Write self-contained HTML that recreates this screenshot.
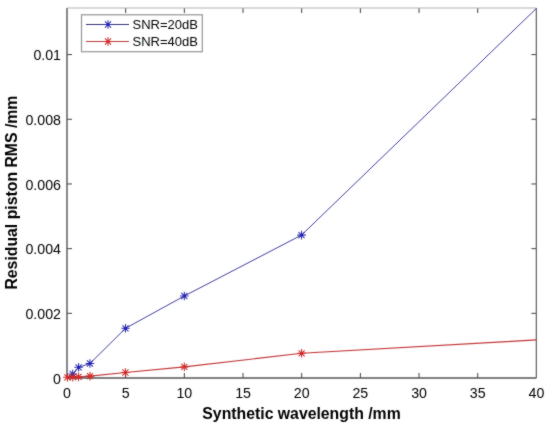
<!DOCTYPE html>
<html><head><meta charset="utf-8"><title>Residual piston RMS vs synthetic wavelength</title>
<style>html,body{margin:0;padding:0;background:#fff;width:550px;height:428px;overflow:hidden}svg{display:block}</style>
</head><body>
<svg width="550" height="428" viewBox="0 0 550 428"><defs><clipPath id="clip"><rect x="67.0" y="8.0" width="469.4" height="370.0"/></clipPath><filter id="soft" x="0" y="0" width="550" height="428" filterUnits="userSpaceOnUse" color-interpolation-filters="sRGB"><feConvolveMatrix order="3" kernelMatrix="1 2 1 2 20 2 1 2 1" edgeMode="duplicate"/></filter></defs><g filter="url(#soft)"><rect width="550" height="428" fill="#fff"/><rect x="67.0" y="8.0" width="469.4" height="370.0" fill="#fff"/><path d="M125.67 378.0V373.0M125.67 8.0V13.0M184.35 378.0V373.0M184.35 8.0V13.0M243.02 378.0V373.0M243.02 8.0V13.0M301.70 378.0V373.0M301.70 8.0V13.0M360.38 378.0V373.0M360.38 8.0V13.0M419.05 378.0V373.0M419.05 8.0V13.0M477.72 378.0V373.0M477.72 8.0V13.0M67.0 313.32H72.0M536.4 313.32H531.4M67.0 248.64H72.0M536.4 248.64H531.4M67.0 183.96H72.0M536.4 183.96H531.4M67.0 119.28H72.0M536.4 119.28H531.4M67.0 54.60H72.0M536.4 54.60H531.4" stroke="#404040" stroke-width="1.0" fill="none"/><path d="M67.0 8.0V378.0H536.4" fill="none" stroke="#555555" stroke-width="1.4"/><path d="M536.35 378.0V8.0" fill="none" stroke="#666" stroke-width="1.25"/><path d="M67.0 8.0H536.4" fill="none" stroke="#b4b4b4" stroke-width="1.2"/><g clip-path="url(#clip)"><polyline points="72.70,374.00 78.60,367.30 89.95,363.50 125.50,328.30 184.30,296.00 301.50,235.10 536.40,8.40" fill="none" stroke="#4040a2" stroke-width="1.0" stroke-linejoin="round"/><polyline points="67.40,377.30 72.80,377.10 78.50,376.90 90.00,376.10 125.40,372.50 184.30,366.90 301.60,353.30 536.40,339.90" fill="none" stroke="#c23436" stroke-width="1.15" stroke-linejoin="round"/></g><path d="M68.40 374.00H77.00M72.70 369.70V378.30M69.66 370.96L75.74 377.04M69.66 377.04L75.74 370.96" stroke="#3030a6" stroke-width="1.05" fill="none"/><circle cx="72.70" cy="374.00" r="1.15" fill="#1414e6"/><path d="M74.30 367.30H82.90M78.60 363.00V371.60M75.56 364.26L81.64 370.34M75.56 370.34L81.64 364.26" stroke="#3030a6" stroke-width="1.05" fill="none"/><circle cx="78.60" cy="367.30" r="1.15" fill="#1414e6"/><path d="M85.65 363.50H94.25M89.95 359.20V367.80M86.91 360.46L92.99 366.54M86.91 366.54L92.99 360.46" stroke="#3030a6" stroke-width="1.05" fill="none"/><circle cx="89.95" cy="363.50" r="1.15" fill="#1414e6"/><path d="M121.20 328.30H129.80M125.50 324.00V332.60M122.46 325.26L128.54 331.34M122.46 331.34L128.54 325.26" stroke="#3030a6" stroke-width="1.05" fill="none"/><circle cx="125.50" cy="328.30" r="1.15" fill="#1414e6"/><path d="M180.00 296.00H188.60M184.30 291.70V300.30M181.26 292.96L187.34 299.04M181.26 299.04L187.34 292.96" stroke="#3030a6" stroke-width="1.05" fill="none"/><circle cx="184.30" cy="296.00" r="1.15" fill="#1414e6"/><path d="M297.20 235.10H305.80M301.50 230.80V239.40M298.46 232.06L304.54 238.14M298.46 238.14L304.54 232.06" stroke="#3030a6" stroke-width="1.05" fill="none"/><circle cx="301.50" cy="235.10" r="1.15" fill="#1414e6"/><path d="M63.10 377.30H71.70M67.40 373.00V381.60M64.36 374.26L70.44 380.34M64.36 380.34L70.44 374.26" stroke="#c42a2a" stroke-width="1.05" fill="none"/><circle cx="67.40" cy="377.30" r="1.15" fill="#ff1e1e"/><path d="M68.50 377.10H77.10M72.80 372.80V381.40M69.76 374.06L75.84 380.14M69.76 380.14L75.84 374.06" stroke="#c42a2a" stroke-width="1.05" fill="none"/><circle cx="72.80" cy="377.10" r="1.15" fill="#ff1e1e"/><path d="M74.20 376.90H82.80M78.50 372.60V381.20M75.46 373.86L81.54 379.94M75.46 379.94L81.54 373.86" stroke="#c42a2a" stroke-width="1.05" fill="none"/><circle cx="78.50" cy="376.90" r="1.15" fill="#ff1e1e"/><path d="M85.70 376.10H94.30M90.00 371.80V380.40M86.96 373.06L93.04 379.14M86.96 379.14L93.04 373.06" stroke="#c42a2a" stroke-width="1.05" fill="none"/><circle cx="90.00" cy="376.10" r="1.15" fill="#ff1e1e"/><path d="M121.10 372.50H129.70M125.40 368.20V376.80M122.36 369.46L128.44 375.54M122.36 375.54L128.44 369.46" stroke="#c42a2a" stroke-width="1.05" fill="none"/><circle cx="125.40" cy="372.50" r="1.15" fill="#ff1e1e"/><path d="M180.00 366.90H188.60M184.30 362.60V371.20M181.26 363.86L187.34 369.94M181.26 369.94L187.34 363.86" stroke="#c42a2a" stroke-width="1.05" fill="none"/><circle cx="184.30" cy="366.90" r="1.15" fill="#ff1e1e"/><path d="M297.30 353.30H305.90M301.60 349.00V357.60M298.56 350.26L304.64 356.34M298.56 356.34L304.64 350.26" stroke="#c42a2a" stroke-width="1.05" fill="none"/><circle cx="301.60" cy="353.30" r="1.15" fill="#ff1e1e"/><g font-family="Liberation Sans, Arial, Helvetica, sans-serif" font-size="14.2" fill="#000"><text x="67.00" y="398.4" text-anchor="middle">0</text><text x="125.67" y="398.4" text-anchor="middle">5</text><text x="184.35" y="398.4" text-anchor="middle">10</text><text x="243.02" y="398.4" text-anchor="middle">15</text><text x="301.70" y="398.4" text-anchor="middle">20</text><text x="360.38" y="398.4" text-anchor="middle">25</text><text x="419.05" y="398.4" text-anchor="middle">30</text><text x="477.72" y="398.4" text-anchor="middle">35</text><text x="536.40" y="398.4" text-anchor="middle">40</text><text x="61" y="383.60" text-anchor="end">0</text><text x="61" y="318.92" text-anchor="end">0.002</text><text x="61" y="254.24" text-anchor="end">0.004</text><text x="61" y="189.56" text-anchor="end">0.006</text><text x="61" y="124.88" text-anchor="end">0.008</text><text x="61" y="60.20" text-anchor="end">0.01</text></g><text transform="translate(301.5 418.8) scale(1.0 1)" x="0" y="0" text-anchor="middle" font-family="Liberation Sans, Arial, Helvetica, sans-serif" font-size="15.8" letter-spacing="0.0" font-weight="bold" fill="#000">Synthetic wavelength /mm</text><text transform="translate(17.3 192.6) rotate(-90) scale(1.0 1)" x="0" y="0" text-anchor="middle" font-family="Liberation Sans, Arial, Helvetica, sans-serif" font-size="15.8" letter-spacing="0.0" font-weight="bold" fill="#000">Residual piston RMS /mm</text><rect x="81.5" y="14.8" width="120.8" height="36.9" fill="#fff" stroke="#959595" stroke-width="1.2"/><path d="M86 24.5H129" stroke="#34347c" stroke-width="1"/><path d="M86 41.5H129" stroke="#b83c3c" stroke-width="1"/><path d="M103.70 24.50H112.30M108.00 20.20V28.80M104.96 21.46L111.04 27.54M104.96 27.54L111.04 21.46" stroke="#3030a6" stroke-width="1.05" fill="none"/><circle cx="108.00" cy="24.50" r="1.15" fill="#1414e6"/><path d="M103.70 41.50H112.30M108.00 37.20V45.80M104.96 38.46L111.04 44.54M104.96 44.54L111.04 38.46" stroke="#c42a2a" stroke-width="1.05" fill="none"/><circle cx="108.00" cy="41.50" r="1.15" fill="#ff1e1e"/><g font-family="Liberation Sans, Arial, Helvetica, sans-serif" font-size="13" fill="#000"><text x="132.5" y="29.4">SNR=20dB</text><text x="132.5" y="46.4">SNR=40dB</text></g></g></svg>
</body></html>
